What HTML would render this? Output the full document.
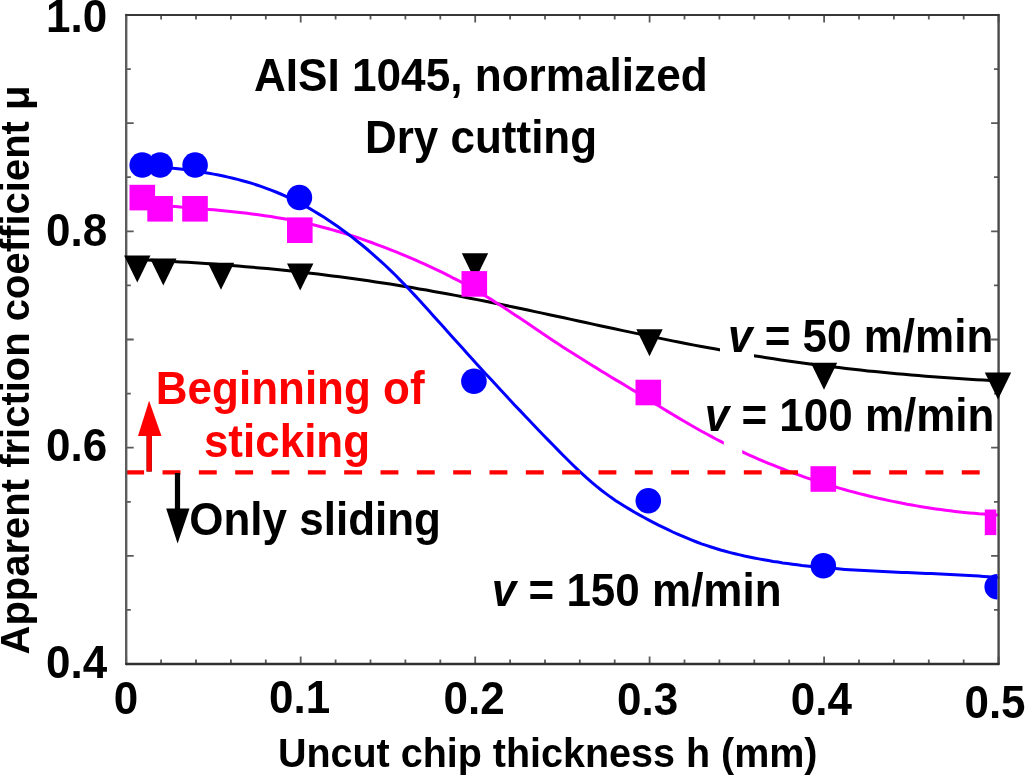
<!DOCTYPE html>
<html><head><meta charset="utf-8"><style>
html,body{margin:0;padding:0;background:#fff;width:1025px;height:775px;overflow:hidden}
svg{display:block}
</style></head><body>
<svg width="1025" height="775" viewBox="0 0 1025 775">
<rect x="0" y="0" width="1025" height="775" fill="#fff"/>
<defs><clipPath id="pc"><rect x="126.2" y="15.0" width="871.2" height="649.0"/></clipPath><clipPath id="ps"><rect x="126.2" y="15.0" width="870.1" height="649.0"/></clipPath></defs>
<g fill="none" stroke-width="3" stroke-linecap="round">
<path d="M137.0,259.5 L144.2,259.8 L151.5,260.2 L158.7,260.6 L165.9,261.0 L173.2,261.4 L180.4,261.9 L187.6,262.3 L194.9,262.8 L202.1,263.3 L209.4,263.8 L216.6,264.3 L223.8,264.9 L231.1,265.4 L238.3,266.0 L245.5,266.7 L252.8,267.3 L260.0,267.9 L267.2,268.6 L274.5,269.3 L281.7,270.1 L288.9,270.8 L296.2,271.6 L303.4,272.4 L310.6,273.2 L317.9,274.1 L325.1,274.9 L332.4,275.9 L339.6,276.8 L346.8,277.7 L354.1,278.7 L361.3,279.8 L368.5,280.8 L375.8,281.9 L383.0,283.0 L390.2,284.1 L397.5,285.2 L404.7,286.4 L411.9,287.6 L419.2,288.9 L426.4,290.1 L433.6,291.4 L440.9,292.7 L448.1,294.0 L455.4,295.4 L462.6,296.8 L469.8,298.2 L477.1,299.6 L484.3,301.0 L491.5,302.5 L498.8,304.0 L506.0,305.5 L513.2,307.0 L520.5,308.5 L527.7,310.0 L534.9,311.6 L542.2,313.1 L549.4,314.7 L556.6,316.2 L563.9,317.8 L571.1,319.4 L578.4,321.0 L585.6,322.5 L592.8,324.1 L600.1,325.7 L607.3,327.3 L614.5,328.8 L621.8,330.4 L629.0,331.9 L636.2,333.4 L643.5,334.9 L650.7,336.5 L657.9,337.9 L665.2,339.4 L672.4,340.9 L679.6,342.3 L686.9,343.7 L694.1,345.1 L701.4,346.5 L708.6,347.8 L715.8,349.1 L723.1,350.4 L730.3,351.7 L737.5,353.0 L744.8,354.2 L752.0,355.4 L759.2,356.6 L766.5,357.7 L773.7,358.8 L780.9,359.9 L788.2,361.0 L795.4,362.0 L802.6,363.0 L809.9,364.0 L817.1,364.9 L824.4,365.9 L831.6,366.8 L838.8,367.6 L846.1,368.5 L853.3,369.3 L860.5,370.1 L867.8,370.9 L875.0,371.6 L882.2,372.3 L889.5,373.0 L896.7,373.7 L903.9,374.3 L911.2,375.0 L918.4,375.6 L925.6,376.2 L932.9,376.7 L940.1,377.3 L947.4,377.8 L954.6,378.3 L961.8,378.8 L969.1,379.3 L976.3,379.7 L983.5,380.1 L990.8,380.6 L998.0,381.0" stroke="#000"/>
<path d="M142.0,203.6 L146.8,204.1 L151.6,204.5 L156.3,204.9 L161.1,205.4 L165.9,205.8 L170.7,206.2 L175.5,206.6 L180.3,207.0 L185.0,207.4 L189.8,207.8 L194.6,208.2 L199.4,208.6 L204.2,209.0 L208.9,209.4 L213.7,209.8 L218.5,210.3 L223.3,210.7 L228.1,211.2 L232.9,211.7 L237.6,212.2 L242.4,212.8 L247.2,213.3 L252.0,213.9 L256.8,214.6 L261.6,215.2 L266.3,215.9 L271.1,216.6 L275.9,217.4 L280.7,218.2 L285.5,219.0 L290.2,219.9 L295.0,220.8 L299.8,221.8 L304.6,222.8 L309.4,223.9 L314.2,225.0 L318.9,226.2 L323.7,227.5 L328.5,228.7 L333.3,230.1 L338.1,231.5 L342.8,232.9 L347.6,234.4 L352.4,235.9 L357.2,237.5 L362.0,239.2 L366.8,240.8 L371.5,242.5 L376.3,244.3 L381.1,246.1 L385.9,247.9 L390.7,249.8 L395.5,251.7 L400.2,253.6 L405.0,255.6 L409.8,257.6 L414.6,259.7 L419.4,261.8 L424.1,263.9 L428.9,266.1 L433.7,268.3 L438.5,270.6 L443.3,272.9 L448.1,275.3 L452.8,277.8 L457.6,280.2 L462.4,282.8 L467.2,285.4 L472.0,288.1 L476.7,290.8 L481.5,293.6 L486.3,296.5 L491.1,299.4 L495.9,302.4 L500.7,305.5 L505.4,308.6 L510.2,311.7 L515.0,314.9 L519.8,318.1 L524.6,321.3 L529.4,324.6 L534.1,327.8 L538.9,331.1 L543.7,334.3 L548.5,337.5 L553.3,340.7 L558.0,343.8 L562.8,347.0 L567.6,350.0 L572.4,353.1 L577.2,356.1 L582.0,359.1 L586.7,362.1 L591.5,365.0 L596.3,367.9 L601.1,370.9 L605.9,373.8 L610.6,376.7 L615.4,379.6 L620.2,382.4 L625.0,385.3 L629.8,388.2 L634.6,391.1 L639.3,394.1 L644.1,397.0 L648.9,399.9 L653.7,402.9 L658.5,405.8 L663.3,408.7 L668.0,411.6 L672.8,414.5 L677.6,417.4 L682.4,420.2 L687.2,423.0 L691.9,425.8 L696.7,428.5 L701.5,431.2 L706.3,433.8 L711.1,436.4 L715.9,439.0 L720.6,441.4 L725.4,443.8 L730.2,446.2 L735.0,448.5 L739.8,450.7 L744.5,452.9 L749.3,455.1 L754.1,457.2 L758.9,459.3 L763.7,461.3 L768.5,463.3 L773.2,465.2 L778.0,467.1 L782.8,469.0 L787.6,470.8 L792.4,472.6 L797.2,474.4 L801.9,476.1 L806.7,477.8 L811.5,479.4 L816.3,481.0 L821.1,482.5 L825.8,484.0 L830.6,485.5 L835.4,487.0 L840.2,488.4 L845.0,489.7 L849.8,491.1 L854.5,492.3 L859.3,493.6 L864.1,494.8 L868.9,496.0 L873.7,497.1 L878.4,498.3 L883.2,499.3 L888.0,500.4 L892.8,501.4 L897.6,502.3 L902.4,503.3 L907.1,504.2 L911.9,505.0 L916.7,505.9 L921.5,506.7 L926.3,507.4 L931.1,508.2 L935.8,508.9 L940.6,509.6 L945.4,510.2 L950.2,510.8 L955.0,511.4 L959.7,511.9 L964.5,512.4 L969.3,512.9 L974.1,513.3 L978.9,513.8 L983.7,514.1 L988.4,514.5 L993.2,514.8 L998.0,515.1" stroke="#ff00ff"/>
<path d="M142.0,165.0 L146.8,165.4 L151.6,165.9 L156.3,166.4 L161.1,166.9 L165.9,167.4 L170.7,167.9 L175.5,168.4 L180.3,169.0 L185.0,169.6 L189.8,170.2 L194.6,170.9 L199.4,171.6 L204.2,172.4 L208.9,173.2 L213.7,174.1 L218.5,175.0 L223.3,176.0 L228.1,177.1 L232.9,178.2 L237.6,179.4 L242.4,180.7 L247.2,182.0 L252.0,183.4 L256.8,185.0 L261.6,186.6 L266.3,188.3 L271.1,190.1 L275.9,192.0 L280.7,194.0 L285.5,196.1 L290.2,198.4 L295.0,200.7 L299.8,203.2 L304.6,205.7 L309.4,208.4 L314.2,211.2 L318.9,214.1 L323.7,217.1 L328.5,220.2 L333.3,223.5 L338.1,226.8 L342.8,230.2 L347.6,233.8 L352.4,237.4 L357.2,241.2 L362.0,245.0 L366.8,249.0 L371.5,253.1 L376.3,257.3 L381.1,261.6 L385.9,266.0 L390.7,270.6 L395.5,275.3 L400.2,280.1 L405.0,285.0 L409.8,290.0 L414.6,295.1 L419.4,300.3 L424.1,305.6 L428.9,310.8 L433.7,316.2 L438.5,321.5 L443.3,326.8 L448.1,332.2 L452.8,337.5 L457.6,342.8 L462.4,348.1 L467.2,353.4 L472.0,358.7 L476.7,363.9 L481.5,369.2 L486.3,374.4 L491.1,379.6 L495.9,384.8 L500.7,390.0 L505.4,395.1 L510.2,400.2 L515.0,405.4 L519.8,410.4 L524.6,415.5 L529.4,420.5 L534.1,425.5 L538.9,430.5 L543.7,435.5 L548.5,440.4 L553.3,445.3 L558.0,450.1 L562.8,455.0 L567.6,459.7 L572.4,464.5 L577.2,469.1 L582.0,473.6 L586.7,477.9 L591.5,482.2 L596.3,486.2 L601.1,490.0 L605.9,493.6 L610.6,497.1 L615.4,500.4 L620.2,503.5 L625.0,506.5 L629.8,509.4 L634.6,512.2 L639.3,514.9 L644.1,517.5 L648.9,520.1 L653.7,522.6 L658.5,525.1 L663.3,527.4 L668.0,529.7 L672.8,532.0 L677.6,534.1 L682.4,536.2 L687.2,538.2 L691.9,540.1 L696.7,542.0 L701.5,543.8 L706.3,545.4 L711.1,547.0 L715.9,548.5 L720.6,550.0 L725.4,551.3 L730.2,552.6 L735.0,553.8 L739.8,554.9 L744.5,556.0 L749.3,557.0 L754.1,558.0 L758.9,558.9 L763.7,559.8 L768.5,560.6 L773.2,561.4 L778.0,562.1 L782.8,562.9 L787.6,563.5 L792.4,564.2 L797.2,564.8 L801.9,565.4 L806.7,565.9 L811.5,566.4 L816.3,566.9 L821.1,567.4 L825.8,567.8 L830.6,568.3 L835.4,568.6 L840.2,569.0 L845.0,569.4 L849.8,569.7 L854.5,570.0 L859.3,570.3 L864.1,570.6 L868.9,570.8 L873.7,571.1 L878.4,571.3 L883.2,571.6 L888.0,571.8 L892.8,572.0 L897.6,572.2 L902.4,572.4 L907.1,572.6 L911.9,572.8 L916.7,573.0 L921.5,573.2 L926.3,573.4 L931.1,573.6 L935.8,573.8 L940.6,574.0 L945.4,574.3 L950.2,574.5 L955.0,574.7 L959.7,575.0 L964.5,575.3 L969.3,575.5 L974.1,575.8 L978.9,576.1 L983.7,576.5 L988.4,576.8 L993.2,577.2 L998.0,577.5" stroke="#0000ff"/>
</g>
<rect x="720" y="343" width="34" height="19" fill="#fff"/><rect x="723.8" y="436" width="18.4" height="22" fill="#fff"/>
<line x1="126.2" y1="472.4" x2="980" y2="472.4" stroke="#ff0000" stroke-width="4.2" stroke-dasharray="17.9 18.43"/>
<path d="M126.2,15.0 v7.5 M126.2,664.0 v-7.5 M161.1,15.0 v4.6 M161.1,664.0 v-4.6 M196.0,15.0 v4.6 M196.0,664.0 v-4.6 M230.9,15.0 v4.6 M230.9,664.0 v-4.6 M265.8,15.0 v4.6 M265.8,664.0 v-4.6 M300.7,15.0 v7.5 M300.7,664.0 v-7.5 M335.6,15.0 v4.6 M335.6,664.0 v-4.6 M370.5,15.0 v4.6 M370.5,664.0 v-4.6 M405.4,15.0 v4.6 M405.4,664.0 v-4.6 M440.3,15.0 v4.6 M440.3,664.0 v-4.6 M475.2,15.0 v7.5 M475.2,664.0 v-7.5 M510.1,15.0 v4.6 M510.1,664.0 v-4.6 M545.0,15.0 v4.6 M545.0,664.0 v-4.6 M579.8,15.0 v4.6 M579.8,664.0 v-4.6 M614.7,15.0 v4.6 M614.7,664.0 v-4.6 M649.6,15.0 v7.5 M649.6,664.0 v-7.5 M684.5,15.0 v4.6 M684.5,664.0 v-4.6 M719.4,15.0 v4.6 M719.4,664.0 v-4.6 M754.3,15.0 v4.6 M754.3,664.0 v-4.6 M789.2,15.0 v4.6 M789.2,664.0 v-4.6 M824.1,15.0 v7.5 M824.1,664.0 v-7.5 M859.0,15.0 v4.6 M859.0,664.0 v-4.6 M893.9,15.0 v4.6 M893.9,664.0 v-4.6 M928.8,15.0 v4.6 M928.8,664.0 v-4.6 M963.7,15.0 v4.6 M963.7,664.0 v-4.6 M998.6,15.0 v7.5 M998.6,664.0 v-7.5 M126.2,664.0 h7.5 M998.6,664.0 h-7.5 M126.2,609.9 h4.6 M998.6,609.9 h-4.6 M126.2,555.8 h7.5 M998.6,555.8 h-7.5 M126.2,501.8 h4.6 M998.6,501.8 h-4.6 M126.2,447.7 h7.5 M998.6,447.7 h-7.5 M126.2,393.6 h4.6 M998.6,393.6 h-4.6 M126.2,339.5 h7.5 M998.6,339.5 h-7.5 M126.2,285.4 h4.6 M998.6,285.4 h-4.6 M126.2,231.3 h7.5 M998.6,231.3 h-7.5 M126.2,177.2 h4.6 M998.6,177.2 h-4.6 M126.2,123.2 h7.5 M998.6,123.2 h-7.5 M126.2,69.1 h4.6 M998.6,69.1 h-4.6 M126.2,15.0 h7.5 M998.6,15.0 h-7.5" stroke="#5a5a5a" stroke-width="1.8" fill="none"/>
<g fill="none" stroke-linecap="round"><path d="M126.2,15.0 V664.0" stroke="#5c5c5c" stroke-width="2.4"/><path d="M998.6,15.0 V664.0" stroke="#4a4a4a" stroke-width="2.4"/><path d="M126.2,15.0 H998.6" stroke="#383838" stroke-width="2.2"/><path d="M126.2,664.0 H998.6" stroke="#303030" stroke-width="2.3"/></g>
<g fill="#000"><path d="M124.1,255.5 H150.5 L137.3,282.5 Z"/><path d="M150.1,258.5 H176.5 L163.3,285.5 Z"/><path d="M207.8,262.8 H234.2 L221.0,289.8 Z"/><path d="M287.0,263.6 H313.4 L300.2,290.6 Z"/><path d="M461.8,253.2 H488.2 L475.0,280.2 Z"/><path d="M636.3,329.3 H662.7 L649.5,356.3 Z"/><path d="M810.8,362.8 H837.2 L824.0,389.8 Z"/><path d="M984.8,372.4 H1011.2 L998.0,399.4 Z"/></g>
<g fill="#0000ff" clip-path="url(#pc)"><circle cx="142.2" cy="165" r="12.8"/><circle cx="160.1" cy="165" r="12.8"/><circle cx="195.1" cy="165" r="12.8"/><circle cx="299.4" cy="197.5" r="12.8"/><circle cx="473.9" cy="381.2" r="12.8"/><circle cx="648.3" cy="500.7" r="12.8"/><circle cx="823.3" cy="565.7" r="12.8"/><circle cx="997.2" cy="586.8" r="12.8"/></g>
<g fill="#ff00ff" clip-path="url(#ps)"><rect x="129.5" y="184.8" width="25.6" height="25.6"/><rect x="147.3" y="196.0" width="25.6" height="25.6"/><rect x="182.2" y="196.0" width="25.6" height="25.6"/><rect x="287.0" y="217.4" width="25.6" height="25.6"/><rect x="461.5" y="271.1" width="25.6" height="25.6"/><rect x="635.5" y="379.7" width="25.6" height="25.6"/><rect x="810.5" y="466.2" width="25.6" height="25.6"/><rect x="984.8" y="509.5" width="25.6" height="25.6"/></g>
<path d="M149.2,471.5 V436 M177.5,473 V509" stroke-width="5.2" fill="none" stroke="#000"/>
<path d="M149.2,471.5 V436" stroke-width="5.2" stroke="#ff0000"/>
<path d="M149.1,400.7 L161.5,436 H138 Z" fill="#ff0000"/>
<path d="M177.6,543.6 L189.5,508.6 H166.2 Z" fill="#000"/>
<g font-family="&apos;Liberation Sans&apos;, Arial, sans-serif" font-weight="bold"><text transform="translate(107.2,32) scale(1,1.045)" font-size="44" text-anchor="end">1.0</text><text transform="translate(107.2,246) scale(1,1.045)" font-size="44" text-anchor="end">0.8</text><text transform="translate(107.2,461) scale(1,1.045)" font-size="44" text-anchor="end">0.6</text><text transform="translate(107.2,678.3) scale(1,1.045)" font-size="44" text-anchor="end">0.4</text><text transform="translate(126,714) scale(1,1.045)" font-size="44" text-anchor="middle">0</text><text transform="translate(299.6,713) scale(1,1.045)" font-size="44" text-anchor="middle">0.1</text><text transform="translate(474.2,713.5) scale(1,1.045)" font-size="44" text-anchor="middle">0.2</text><text transform="translate(647.7,715) scale(1,1.045)" font-size="44" text-anchor="middle">0.3</text><text transform="translate(821.4,714.5) scale(1,1.045)" font-size="44" text-anchor="middle">0.4</text><text transform="translate(995,717.5) scale(1,1.045)" font-size="44" text-anchor="middle">0.5</text><text transform="translate(547.7,766.7) scale(1,1.02)" font-size="39.5" text-anchor="middle" fill="#000" >Uncut chip thickness h (mm)</text><text transform="translate(28.5,370) rotate(-90)" font-size="40" text-anchor="middle">Apparent friction coefficient μ</text><text transform="translate(480.8,91) scale(1,1.035)" font-size="44.15" text-anchor="middle" fill="#000" >AISI 1045, normalized</text><text transform="translate(481,153.4) scale(1,1.035)" font-size="44" text-anchor="middle" fill="#000" >Dry cutting</text><text transform="translate(290.2,404) scale(1,1.035)" font-size="44" text-anchor="middle" fill="#ff0000" >Beginning of</text><text transform="translate(287,457.2) scale(1,1.035)" font-size="44" text-anchor="middle" fill="#ff0000" >sticking</text><text transform="translate(189.2,535.4) scale(1,1.045)" font-size="44" text-anchor="start" fill="#000" >Only sliding</text><text transform="translate(491.8,606.2) scale(1,1.035)" font-size="44" xml:space="preserve"><tspan font-style="italic">v</tspan> = 150 m/min</text><text transform="translate(728,351.9) scale(1,1.035)" font-size="44" xml:space="preserve"><tspan font-style="italic">v</tspan> = 50 m/min</text><text transform="translate(704.7,431.3) scale(1,1.035)" font-size="44" xml:space="preserve"><tspan font-style="italic">v</tspan> = 100 m/min</text></g>
</svg>
</body></html>
